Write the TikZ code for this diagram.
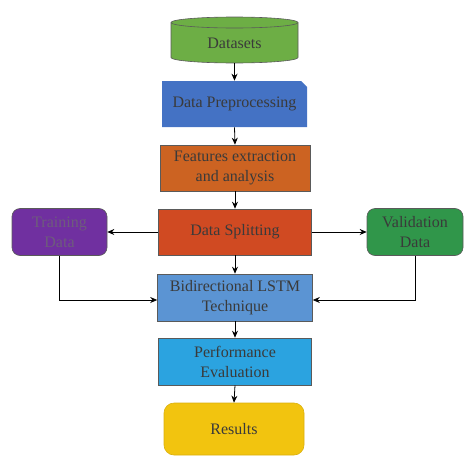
\documentclass[tikz,border=0pt]{standalone}
\usepackage{fontspec}
\setmainfont{Liberation Serif}
\usetikzlibrary{arrows.meta,shapes.misc}
\definecolor{cgreen}{HTML}{6DAE45}
\definecolor{cblue}{HTML}{4472C4}
\definecolor{corange}{HTML}{CC6322}
\definecolor{cred}{HTML}{D04A22}
\definecolor{cpurple}{HTML}{7030A0}
\definecolor{cvalid}{HTML}{30964A}
\definecolor{cbi}{HTML}{5B94D3}
\definecolor{cperf}{HTML}{2BA3E0}
\definecolor{cres}{HTML}{F2C40F}
\definecolor{ctext}{HTML}{3A3A3A}
\definecolor{ctrain}{HTML}{6E5C7C}
\definecolor{cborder}{HTML}{5A5A5A}
\begin{document}
\begin{tikzpicture}[x=1pt,y=-1pt,
  box/.style={rectangle,draw=cborder,line width=0.6pt,align=center,text=ctext,
    font=\fontsize{16}{20}\selectfont,inner sep=2pt},
  rbox/.style={box,rounded corners=8pt},
  arr/.style={draw=black,line width=0.8pt,-{Stealth[length=7pt,width=6pt]}}]
\useasboundingbox (0,0) rectangle (474,474);
% cylinder
\filldraw[fill=cgreen,draw=cborder,line width=0.6pt]
  (171,22.5) -- (171,57.5) arc[start angle=180,end angle=360,x radius=63.5pt,y radius=5.5pt]
  -- (298,22.5) arc[start angle=0,end angle=180,x radius=63.5pt,y radius=5.5pt] -- cycle;
\draw[cborder,line width=0.6pt] (171,22.5) arc[start angle=180,end angle=360,x radius=63.5pt,y radius=5.5pt];
\node[box,draw=none,minimum width=127pt,minimum height=40pt] (ds) at (234.5,43) {Datasets};
\node[box,draw=none,fill=cblue,chamfered rectangle,chamfered rectangle corners=north east,
  chamfered rectangle xsep=3pt,chamfered rectangle ysep=3pt,
  minimum width=145pt,minimum height=46pt] (pre) at (234.5,104) {Data Preprocessing};
\node[box,fill=corange,minimum width=150pt,minimum height=46pt] (feat) at (235,168) {Features extraction\\and analysis};
\node[box,fill=cred,minimum width=153pt,minimum height=46pt] (split) at (235,232) {Data Splitting};
\node[rbox,fill=cpurple,text=ctrain,minimum width=95pt,minimum height=47pt] (train) at (59.5,232) {Training\\Data};
\node[rbox,fill=cvalid,minimum width=96pt,minimum height=47pt] (valid) at (415,232) {Validation\\Data};
\node[box,fill=cbi,minimum width=155pt,minimum height=47pt] (bi) at (235,297.5) {Bidirectional LSTM\\Technique};
\node[box,fill=cperf,minimum width=153pt,minimum height=47pt] (perf) at (235,361.5) {Performance\\Evaluation};
\node[rbox,rounded corners=10pt,draw=cres!90!black,fill=cres,text=ctext,minimum width=140pt,minimum height=52pt] (res) at (234,429) {Results};
% connectors
\draw[arr] (ds.south) -- (pre.north);
\draw[arr] (pre.south) -- (feat.north);
\draw[arr] (feat.south) -- (split.north);
\draw[arr] (split.south) -- (bi.north);
\draw[arr] (bi.south) -- (perf.north);
\draw[arr] (perf.south) -- (res.north);
\draw[arr] (split.west) -- (train.east);
\draw[arr] (split.east) -- (valid.west);
\draw[arr] (train.south) |- ([yshift=-2.5pt]bi.west);
\draw[arr] (valid.south) |- ([yshift=-2.5pt]bi.east);
\end{tikzpicture}
\end{document}
